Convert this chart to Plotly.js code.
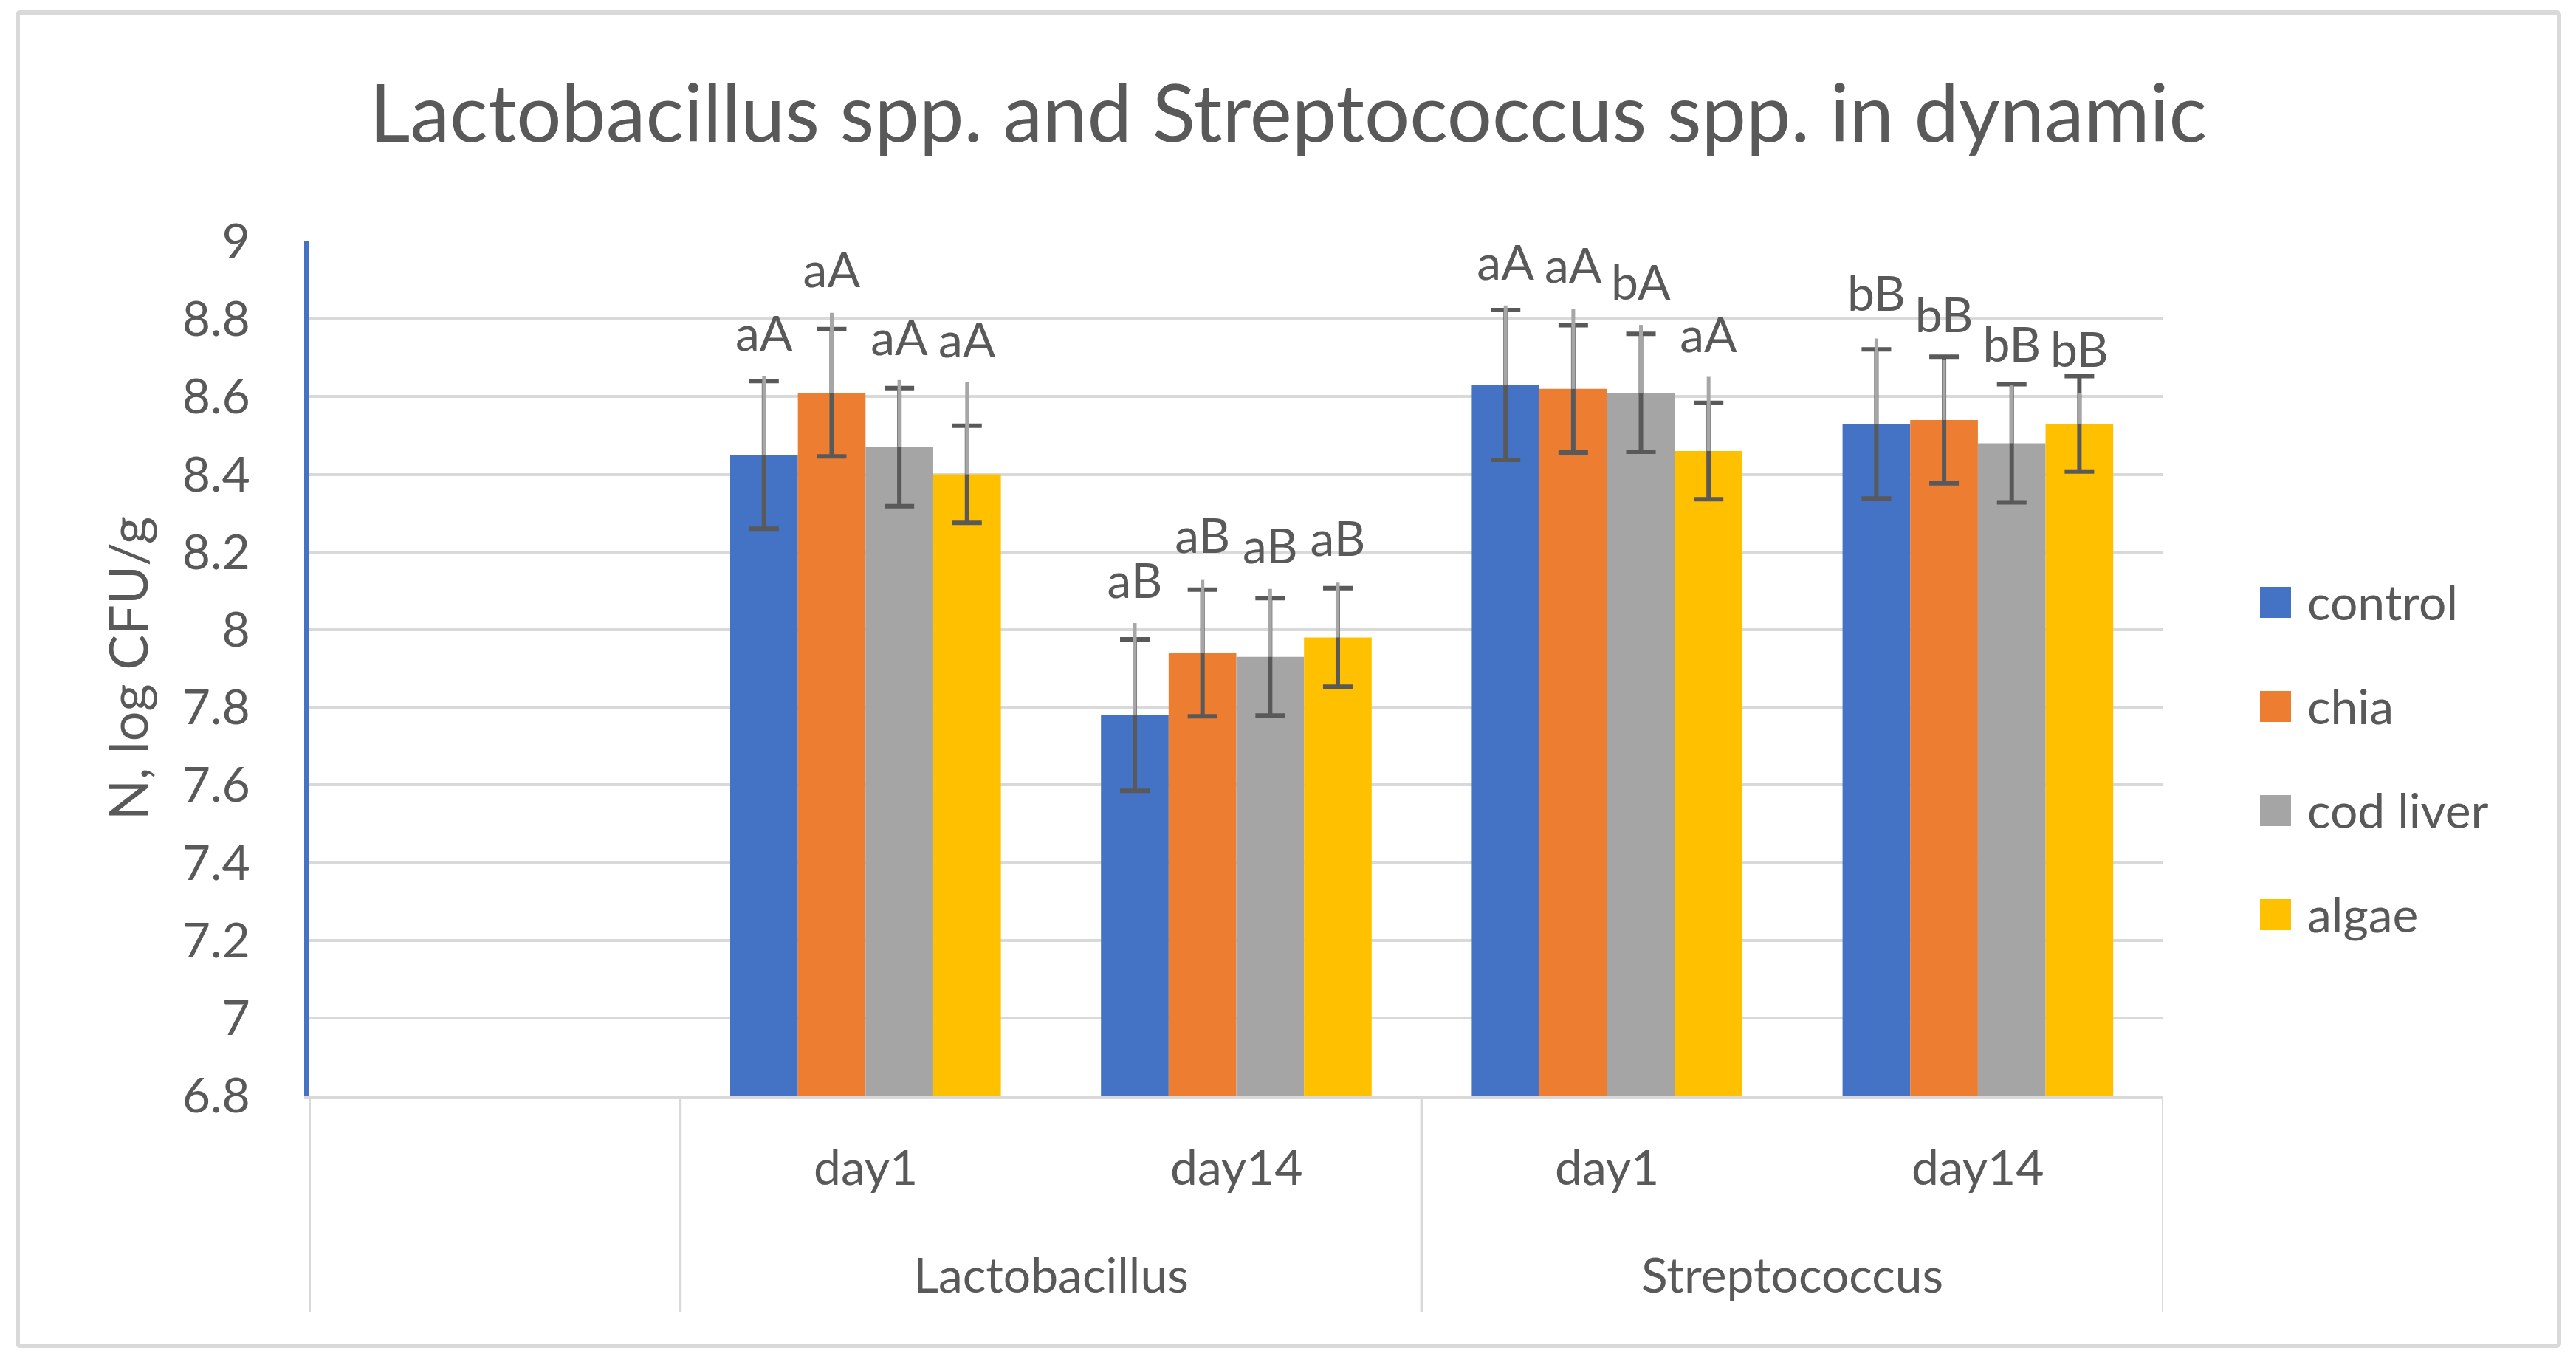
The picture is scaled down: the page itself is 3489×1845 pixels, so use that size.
<!DOCTYPE html>
<html>
<head>
<meta charset="utf-8">
<script src="https://cdn.plot.ly/plotly-3.0.1.min.js"></script>
<style>
  html, body { margin: 0; padding: 0; background: #ffffff; }
  #chart { width: 3489px; height: 1845px; }
  #frame {
    position: absolute; left: 21px; top: 14px;
    width: 3436px; height: 1800px;
    border: 6px solid #d9d9d9; border-radius: 6px;
    pointer-events: none;
  }
</style>
</head>
<body>
<div id="chart"></div>
<div id="frame"></div>
<script>
// Two-level categories: organism (outer) and sampling day (inner); the first slot is left blank.
const organisms = [" ", "Lactobacillus", "Lactobacillus", "Streptococcus", "Streptococcus"];
const days      = [" ", "day1", "day14", "day1", "day14"];

const seriesNames  = ["control", "chia", "cod liver", "algae"];
const seriesColors = ["#4472c4", "#ed7d31", "#a5a5a5", "#ffc000"];

// Mean counts, log CFU/g
const controlMean  = [null, 8.45, 7.78, 8.63, 8.53];
const chiaMean     = [null, 8.61, 7.94, 8.62, 8.54];
const codLiverMean = [null, 8.47, 7.93, 8.61, 8.48];
const algaeMean    = [null, 8.40, 7.98, 8.46, 8.53];

// Symmetric error (dark bars with caps)
const controlErr  = [null, 0.190, 0.195, 0.193, 0.192];
const chiaErr     = [null, 0.164, 0.163, 0.164, 0.163];
const codLiverErr = [null, 0.152, 0.151, 0.152, 0.152];
const algaeErr    = [null, 0.125, 0.127, 0.124, 0.123];

// Upper-only light grey whiskers
const controlUp  = [null, 0.203, 0.237, 0.205, 0.220];
const chiaUp     = [null, 0.206, 0.188, 0.205, 0.155];
const codLiverUp = [null, 0.173, 0.175, 0.175, 0.149];
const algaeUp    = [null, 0.237, 0.141, 0.191, 0.080];

// Significance letters and the level of their baseline
const controlLetters  = ["", "aA", "aB", "aA", "bB"];
const chiaLetters     = ["", "aA", "aB", "aA", "bB"];
const codLiverLetters = ["", "aA", "aB", "bA", "bB"];
const algaeLetters    = ["", "aA", "aB", "aA", "bB"];

const controlLetterY  = [null, 8.717, 8.080, 8.898, 8.818];
const chiaLetterY     = [null, 8.879, 8.195, 8.891, 8.763];
const codLiverLetterY = [null, 8.705, 8.168, 8.848, 8.687];
const algaeLetterY    = [null, 8.700, 8.187, 8.712, 8.674];

const means    = [controlMean, chiaMean, codLiverMean, algaeMean];
const errs     = [controlErr, chiaErr, codLiverErr, algaeErr];
const ups      = [controlUp, chiaUp, codLiverUp, algaeUp];
const letters  = [controlLetters, chiaLetters, codLiverLetters, algaeLetters];
const letterYs = [controlLetterY, chiaLetterY, codLiverLetterY, algaeLetterY];

const FONT = "Lato, 'Open Sans', sans-serif";
const TEXT = "#595959";
const GRID = "#d9d9d9";

// one category slot per organism/day pair
const xKeys = organisms.map((o, i) => o + "|" + days[i]);

const traces = [];
// coloured bars with dark symmetric error bars
seriesNames.forEach((name, i) => {
  traces.push({
    type: "bar", name: name, x: xKeys, y: means[i],
    offsetgroup: String(i),
    marker: { color: seriesColors[i], line: { width: 0 } },
    error_y: { type: "data", array: errs[i], visible: true,
               color: "#595959", thickness: 6, width: 20 }
  });
});
// light grey upper whiskers, drawn over the dark ones
seriesNames.forEach((name, i) => {
  traces.push({
    type: "bar", name: name + " whisker", x: xKeys, y: means[i],
    offsetgroup: String(i),
    marker: { color: "rgba(0,0,0,0)", line: { width: 0 } },
    error_y: { type: "data", symmetric: false, array: ups[i],
               arrayminus: ups[i].map(v => v === null ? null : 0),
               visible: true, color: "#a6a6a6", thickness: 5, width: 0 }
  });
});
// significance letters sitting at their baseline level
const letterDrop = 0.03;
seriesNames.forEach((name, i) => {
  traces.push({
    type: "bar", name: name + " letters", x: xKeys,
    y: letterYs[i].map(v => v === null ? null : v - letterDrop),
    offsetgroup: String(i),
    marker: { color: "rgba(0,0,0,0)", line: { width: 0 } },
    text: letters[i], textposition: "outside", cliponaxis: false,
    constraintext: "none",
    textfont: { family: FONT, size: 66, color: TEXT }
  });
});

const W = 3489, H = 1845;
const margin = { l: 419, r: 559, t: 327, b: 361, pad: 0 };
const plotW = W - margin.l - margin.r;
const plotH = H - margin.t - margin.b;
const px2x = px => (px - margin.l) / plotW;
const py2y = py => (H - margin.b - py) / plotH;

const shapes = [];
const annotations = [];

// two-level category labels under the axis, with group dividers
days.forEach((d, i) => {
  if (!d.trim()) return;
  annotations.push({
    xref: "x", yref: "paper", x: i, y: py2y(1579),
    xanchor: "center", yanchor: "middle", showarrow: false,
    text: d, font: { family: FONT, size: 66, color: TEXT }
  });
});
const runs = [];
organisms.forEach((o, i) => {
  if (runs.length && runs[runs.length - 1].name === o) runs[runs.length - 1].end = i;
  else runs.push({ name: o, start: i, end: i });
});
runs.forEach(r => {
  if (r.name.trim()) {
    annotations.push({
      xref: "x", yref: "paper", x: (r.start + r.end) / 2, y: py2y(1725),
      xanchor: "center", yanchor: "middle", showarrow: false,
      text: r.name, font: { family: FONT, size: 66, color: TEXT }
    });
  }
});
const dividerAt = runs.map(r => r.start - 0.5).concat([runs[runs.length - 1].end + 0.5]);
dividerAt.forEach(xb => {
  shapes.push({
    type: "line", xref: "x", yref: "paper",
    x0: xb, x1: xb, y0: py2y(1487), y1: py2y(1777),
    line: { color: GRID, width: 4 }
  });
});

// legend: square swatches and names
const legendTop = 816, legendStep = 141;
seriesNames.forEach((name, i) => {
  const yc = py2y(legendTop + i * legendStep);
  shapes.push({
    type: "rect", xref: "paper", yref: "paper",
    xsizemode: "pixel", ysizemode: "pixel",
    xanchor: px2x(3061), yanchor: yc,
    x0: 0, x1: 42, y0: -21, y1: 21,
    fillcolor: seriesColors[i], line: { width: 0 }
  });
  annotations.push({
    xref: "paper", yref: "paper", x: px2x(3123), y: yc + 2 / plotH,
    xanchor: "left", yanchor: "middle", showarrow: false,
    text: name, font: { family: FONT, size: 66, color: TEXT }
  });
});

const layout = {
  width: W, height: H, margin: margin,
  paper_bgcolor: "#ffffff", plot_bgcolor: "#ffffff",
  barmode: "group", bargap: 0.27, bargroupgap: 0,
  showlegend: false, hovermode: false,
  font: { family: FONT, color: TEXT },
  title: {
    text: "Lactobacillus spp. and Streptococcus spp. in dynamic",
    font: { family: FONT, size: 108, color: TEXT },
    x: 0.5, xref: "container", xanchor: "center",
    y: 1 - 154 / H, yref: "container", yanchor: "middle"
  },
  xaxis: {
    type: "category", range: [-0.5, organisms.length - 0.5],
    showline: true, linecolor: GRID, linewidth: 5,
    ticks: "", showgrid: false, zeroline: false,
    showticklabels: false
  },
  yaxis: {
    range: [6.8, 9], tick0: 6.8, dtick: 0.2,
    showline: true, linecolor: "#4472c4", linewidth: 7,
    showgrid: true, gridcolor: GRID, gridwidth: 4,
    zeroline: false, ticks: "",
    tickfont: { family: FONT, size: 66, color: TEXT },
    ticklabelstandoff: 60,
    title: { text: "N, log CFU/g", font: { family: FONT, size: 72, color: TEXT }, standoff: 25 }
  },
  shapes: shapes,
  annotations: annotations
};

Plotly.newPlot("chart", traces, layout, { staticPlot: true, displayModeBar: false });
</script>
</body>
</html>
